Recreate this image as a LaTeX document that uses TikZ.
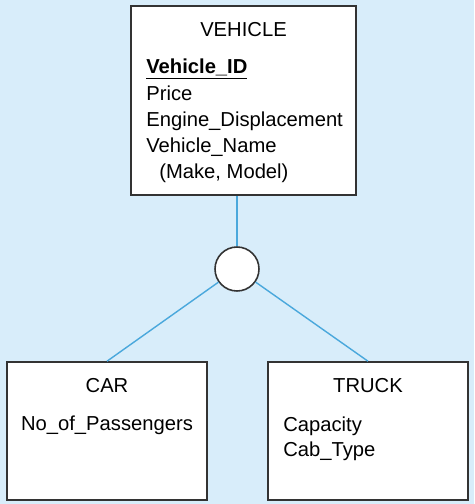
\documentclass[tikz,border=0pt]{standalone}
\usepackage{fontspec}
\setmainfont{Liberation Sans}
\usetikzlibrary{positioning, calc}
\definecolor{erBack}{HTML}{D8EDFA}
\definecolor{erLink}{HTML}{4AA8DC}
\definecolor{erEdge}{HTML}{333333}

\begin{document}
\begin{tikzpicture}[
    x=0.02cm, y=-0.02cm,
    entity/.style={rectangle, draw=erEdge, fill=white, line width=0.9pt, inner sep=0pt},
    title/.style={anchor=base, font=\fontsize{11.5}{14}\selectfont, inner sep=0pt},
    attr/.style={anchor=base west, font=\fontsize{11.5}{14}\selectfont, inner sep=0pt},
    link/.style={draw=erLink, line width=0.8pt},
    subtype/.style={circle, draw=erEdge, fill=white, line width=0.9pt,
                minimum size=0.88cm, inner sep=0pt},
  ]
    \useasboundingbox[fill=erBack] (0,0) rectangle (474,504);

    \node[entity, minimum width=4.5cm, minimum height=3.78cm] (vehicle) at (243.5,100.5) {};
    \node[entity, minimum width=4cm, minimum height=2.76cm] (car) at (107,431) {};
    \node[entity, minimum width=4cm, minimum height=2.76cm] (truck) at (368,431) {};
    \node[subtype] (circ) at (237,269) {};

    \node[title] (vtitle) at (243.5,36) {VEHICLE};
    \node[attr] (vid) at (146,73) {\underline{\textbf{Vehicle\_ID}}};
    \node[attr] (vprice) at (146,100) {Price};
    \node[attr] (vengine) at (146,126) {Engine\_Displacement};
    \node[attr] (vname) at (146,152) {Vehicle\_Name};
    \node[attr] (vmake) at (159,178) {(Make, Model)};

    \node[title] (ctitle) at (107,392) {CAR};
    \node[title] (cpass) at (107,430) {No\_of\_Passengers};

    \node[title] (ttitle) at (368,392) {TRUCK};
    \node[attr] (tcap) at (283,431) {Capacity};
    \node[attr] (tcab) at (283,456) {Cab\_Type};

    \draw[link] (circ |- vehicle.south) -- (circ.north);
    \draw[link] (circ) -- (car.north);
    \draw[link] (circ) -- (truck.north);
  \end{tikzpicture}
\end{document}
